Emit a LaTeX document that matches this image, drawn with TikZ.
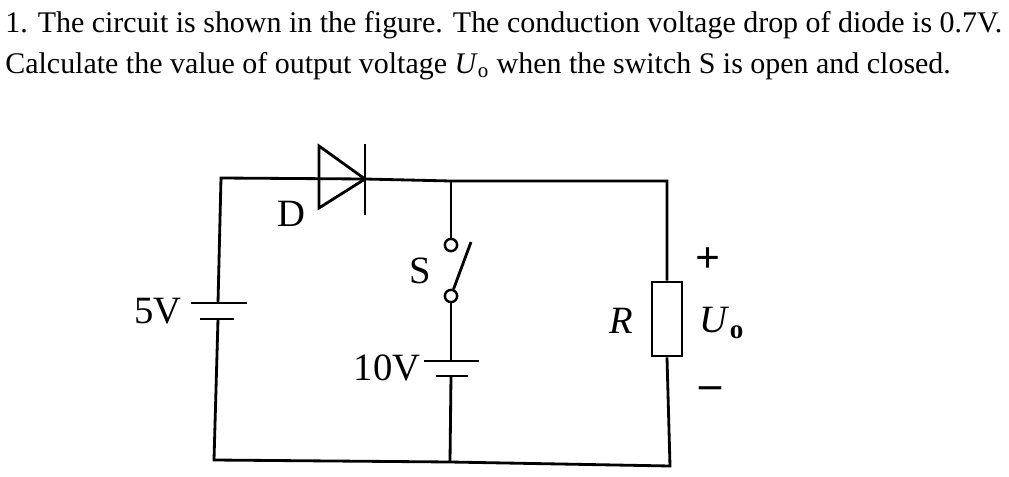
\documentclass[tikz,border=0pt]{standalone}
\usepackage{fontspec}
\setmainfont{Liberation Serif}
\usepackage{tikz}
\usetikzlibrary{positioning, calc}
\tikzstyle{textline}=[inner sep=0pt,anchor=base west,font=\fontsize{17.05}{20}\selectfont]
\tikzstyle{labelbox}=[inner sep=0pt,font=\fontsize{22}{25}\selectfont]
\tikzstyle{signbox}=[inner sep=0pt,font=\fontsize{25}{28}\bfseries\selectfont]
\tikzstyle{contact}=[circle,draw=black,line width=1.4pt,fill=white,inner sep=0pt,minimum size=7pt]
\tikzstyle{resistorbox}=[rectangle,draw=black,line width=1.6pt,fill=white,inner sep=0pt,minimum width=0.6cm,minimum height=1.48cm]
\tikzstyle{wire}=[line width=1.6pt,line join=miter]
\tikzstyle{plate}=[line width=1.7pt]

\begin{document}
\begin{tikzpicture}[x=0.02cm,y=-0.02cm]
    \useasboundingbox (0,0) rectangle (1009,477);
    % problem text
    \node[textline] (line1) at (5,32) {1. The circuit is shown in the figure. The conduction voltage drop of diode is 0.7V.};
    \node[textline] (line2) at (5,73) {Calculate the value of output voltage \textit{U}\textsubscript{o} when the switch S is open and closed.};

    % corners and junctions
    \coordinate (tl) at (221,178);
    \coordinate (tj) at (451,181);
    \coordinate (tr) at (667,181);
    \coordinate (bl) at (214,460);
    \coordinate (bj) at (450,462);
    \coordinate (br) at (670,466);

    % diode
    \coordinate (da) at (319,146);
    \coordinate (db) at (319,208);
    \coordinate (dk) at (365,179);
    \coordinate (dt) at (365,144);
    \coordinate (du) at (365,215);

    % batteries
    \coordinate (b5a) at (218,303);
    \coordinate (b5l) at (191,303);
    \coordinate (b5r) at (247,303);
    \coordinate (b5b) at (218,319);
    \coordinate (b5m) at (200,319);
    \coordinate (b5n) at (234,319);
    \coordinate (b10a) at (451,361);
    \coordinate (b10l) at (424,361);
    \coordinate (b10r) at (479,361);
    \coordinate (b10b) at (451,376);
    \coordinate (b10m) at (436,376);
    \coordinate (b10n) at (468,376);

    % switch and resistor
    \node[contact] (s1) at (451,245) {};
    \node[contact] (s2) at (451,296) {};
    \coordinate (lever) at (471,242);
    \node[resistorbox] (res) at (667,319) {};

    % wires
    \draw[wire] (b5a) -- (tl) -- (dk) -- (tj) -- (tr) -- (res.north);
    \draw[wire] (res.south) -- (br) -- (bj) -- (bl) -- (b5b);
    \draw[wire] (tj) -- (s1);
    \draw[wire] (s2) -- (b10a);
    \draw[wire] (b10b) -- (bj);
    \draw[wire] (s2) -- (lever);
    \draw[wire] (da) -- (dk) -- (db) -- cycle;
    \draw[wire] (dt) -- (du);
    \draw[plate] (b5l) -- (b5r);
    \draw[plate] (b5m) -- (b5n);
    \draw[plate] (b10l) -- (b10r);
    \draw[plate] (b10m) -- (b10n);

    % labels
    \node[labelbox] (lD) at (291,214) {D};
    \node[labelbox] (lS) at (420,271) {S};
    \node[labelbox] (l5) at (158,311) {5V};
    \node[labelbox] (l10) at (387,368) {10V};
    \node[labelbox] (lR) at (621,321) {\textit{R}};
    \node[labelbox] (lU) at (722,323) {\textit{U}\textsubscript{\textbf{o}}};
    \node[signbox] (lp) at (708,260) {+};
    \node[signbox] (lm) at (710,393) {\textendash};
\end{tikzpicture}
\end{document}
